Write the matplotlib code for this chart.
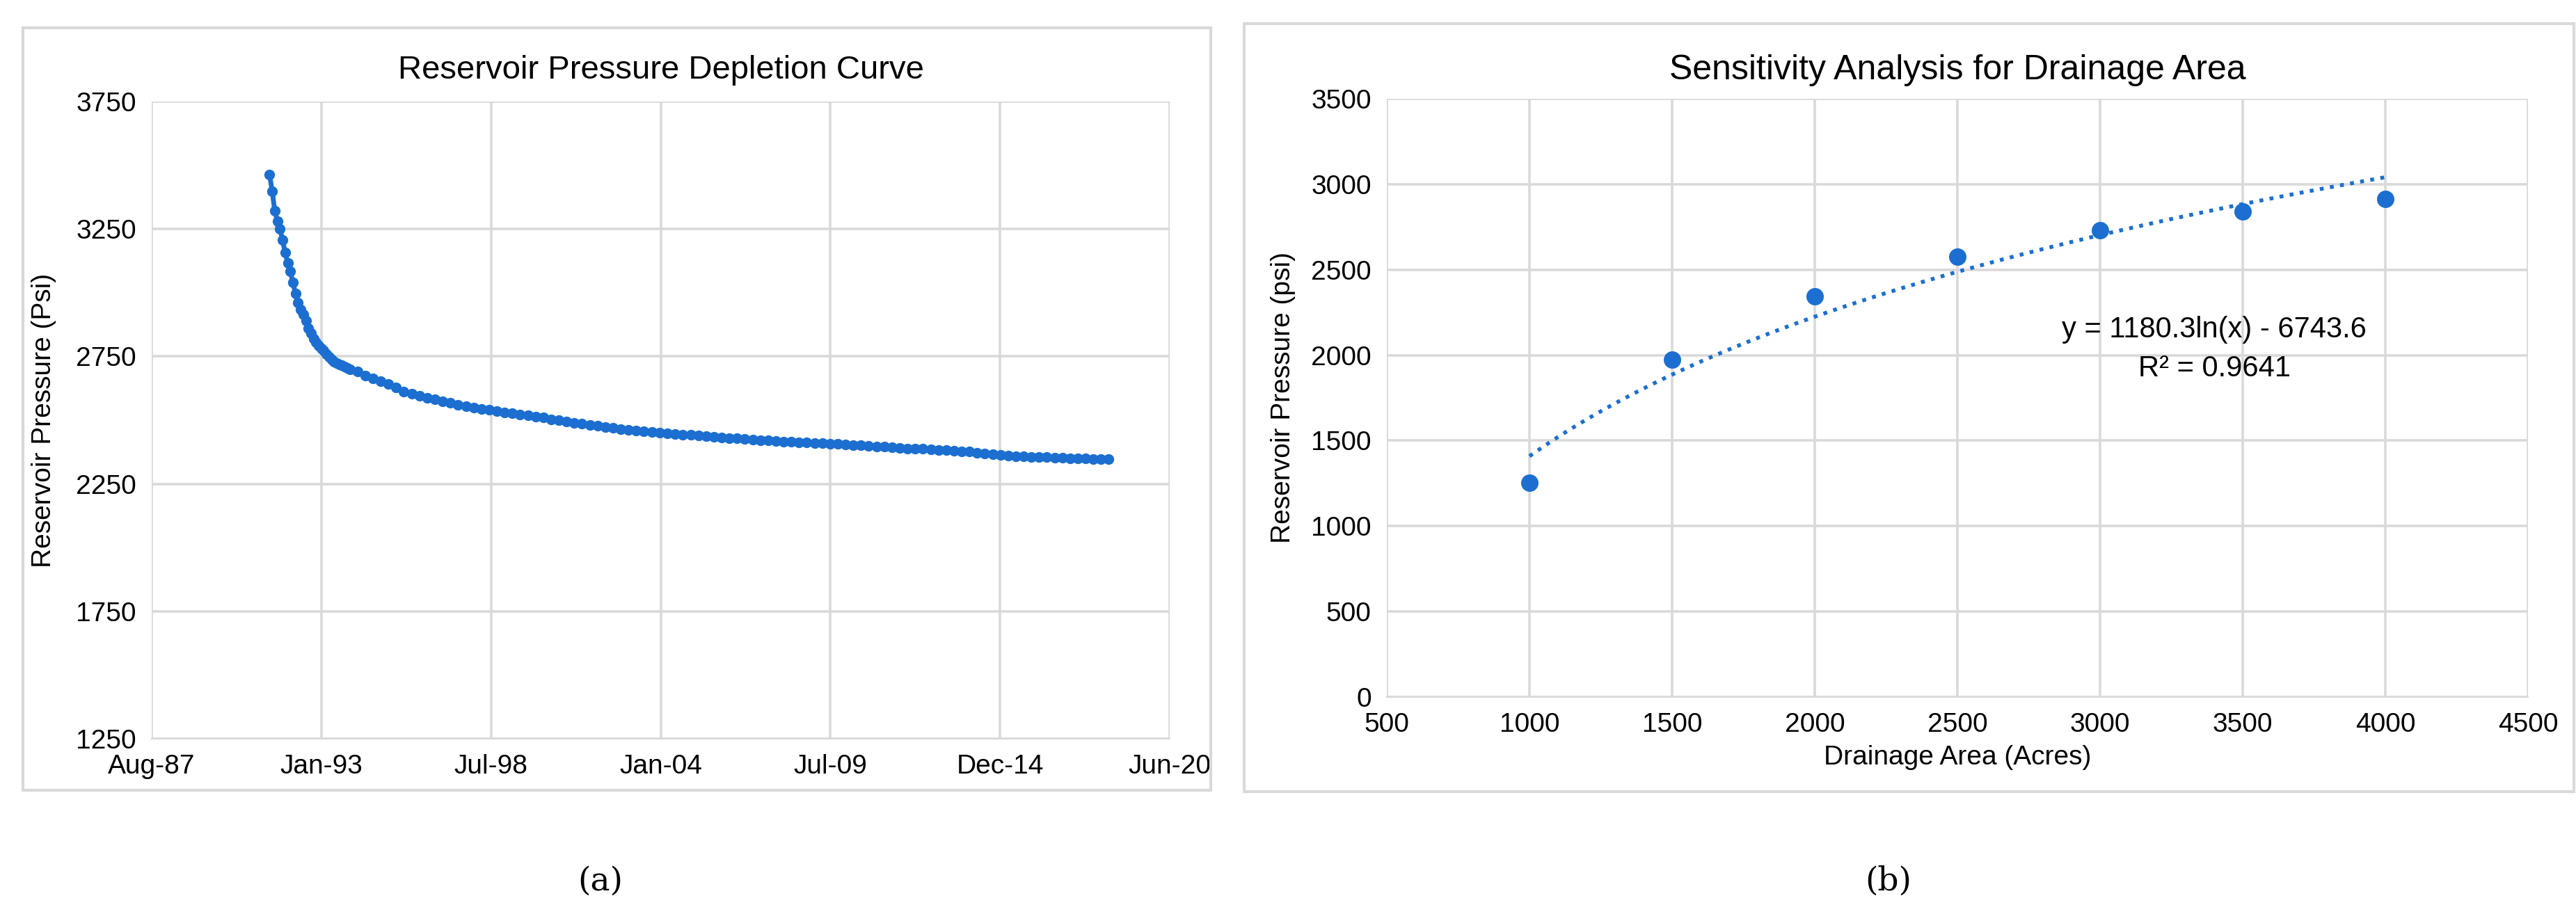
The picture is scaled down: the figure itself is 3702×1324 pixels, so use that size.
import matplotlib
matplotlib.use("Agg")
import matplotlib.pyplot as plt
import matplotlib.dates as mdates
from matplotlib.patches import Rectangle
import numpy as np
import pandas as pd

plt.rcParams['font.family'] = ['Liberation Sans', 'DejaVu Sans']

# ---- Panel (a) data ----
early_start = '1991-06-01'
early_pressure = [3463, 3399, 3321, 3280, 3250, 3206, 3157,
                  3116, 3083, 3040, 2996, 2960, 2935, 2914, 2891, 2860, 2840, 2820, 2805,
                  2792, 2782, 2772, 2760, 2748, 2737, 2730, 2724, 2719, 2715, 2710, 2705]
late_start = '1994-01-01'
late_pressure = [2700, 2690, 2676, 2663, 2652, 2641, 2627, 2613, 2603, 2595, 2588, 2581,
                 2574, 2567, 2561, 2555, 2549, 2544, 2540, 2535, 2530, 2526, 2522, 2518,
                 2514, 2510, 2503, 2499, 2495, 2490, 2486, 2482, 2478, 2474, 2469, 2465,
                 2461, 2458, 2455, 2453, 2451, 2449, 2446, 2444, 2442, 2439, 2437, 2434,
                 2432, 2430, 2428, 2426, 2424, 2422, 2420, 2418, 2416, 2415, 2414, 2413,
                 2411, 2410, 2408, 2407, 2405, 2403, 2401, 2399, 2397, 2395, 2393, 2391,
                 2389, 2388, 2387, 2386, 2384, 2382, 2380, 2378, 2376, 2373, 2370, 2367,
                 2364, 2361, 2359, 2357, 2356, 2355, 2354, 2353, 2352, 2351, 2350, 2349,
                 2348, 2347, 2346]
x_tick_serials = [32000, 34000, 36000, 38000, 40000, 42000, 44000]
y_ticks_a = [1250, 1750, 2250, 2750, 3250, 3750]

# ---- Panel (b) data ----
area = [1000, 1500, 2000, 2500, 3000, 3500, 4000]
pressure_b = [1255, 1975, 2345, 2575, 2730, 2840, 2915]
x_ticks_b = [500, 1000, 1500, 2000, 2500, 3000, 3500, 4000, 4500]
y_ticks_b = [0, 500, 1000, 1500, 2000, 2500, 3000, 3500]

blue = '#1c6fd0'
grid_c = '#d9d9d9'

fig = plt.figure(figsize=(18.51, 6.62), dpi=200)

# panel borders
for (x0, y0, x1, y1) in [(33, 40, 1740, 1136), (1788, 34, 3699, 1138)]:
    fig.patches.append(Rectangle((x0/3702, 1-y1/1324), (x1-x0)/3702, (y1-y0)/1324,
                                 transform=fig.transFigure, fill=False,
                                 edgecolor=grid_c, linewidth=1.5))

# ---- Panel (a) ----
ax = fig.add_axes([218/3702, 1-1062/1324, (1681-218)/3702, (1062-146)/1324])
d_early = pd.date_range(early_start, periods=len(early_pressure), freq='MS')
d_late = pd.date_range(late_start, periods=len(late_pressure), freq='QS')
dates = list(d_early) + list(d_late)
press = early_pressure + late_pressure
ax.plot(dates, press, color=blue, lw=2.5, marker='o', ms=4.5, zorder=3)
base = pd.Timestamp('1899-12-30')
xt = [base + pd.Timedelta(days=s) for s in x_tick_serials]
ax.set_xlim(xt[0], xt[-1])
ax.set_xticks(xt)
ax.xaxis.set_major_formatter(mdates.DateFormatter('%b-%y'))
ax.set_ylim(1250, 3750)
ax.set_yticks(y_ticks_a)
ax.grid(True, color=grid_c, lw=1.3)
for s in ['top', 'right', 'left']:
    ax.spines[s].set_visible(False)
ax.spines['bottom'].set_color(grid_c)
ax.tick_params(length=0, labelsize=14, pad=8)
ax.set_title('Reservoir Pressure Depletion Curve', fontsize=17, pad=12)
ax.set_ylabel('Reservoir Pressure (Psi)', fontsize=14, labelpad=10)

# ---- Panel (b) ----
bx = fig.add_axes([1993/3702, 1-1002/1324, (3633-1993)/3702, (1002-142)/1324])
bx.plot(area, pressure_b, 'o', color=blue, ms=8, zorder=3)
coef = np.polyfit(np.log(area), pressure_b, 1)
xs = np.linspace(min(area), max(area), 200)
bx.plot(xs, coef[0]*np.log(xs) + coef[1], ':', color=blue, lw=2, zorder=2)
bx.set_xlim(500, 4500)
bx.set_ylim(0, 3500)
bx.set_xticks(x_ticks_b)
bx.set_yticks(y_ticks_b)
bx.grid(True, color=grid_c, lw=1.3)
for s in ['top', 'right', 'left']:
    bx.spines[s].set_visible(False)
bx.spines['bottom'].set_color(grid_c)
bx.tick_params(length=0, labelsize=14, pad=8)
bx.set_title('Sensitivity Analysis for Drainage Area', fontsize=18, pad=10)
bx.set_ylabel('Reservoir Pressure (psi)', fontsize=14, labelpad=8)
bx.set_xlabel('Drainage Area (Acres)', fontsize=14, labelpad=4)
bx.text(3400, 2150, 'y = 1180.3ln(x) - 6743.6', ha='center', va='center', fontsize=15)
bx.text(3400, 1920, 'R² = 0.9641', ha='center', va='center', fontsize=15)

# captions
fig.text(0.233, 0.043, '(a)', ha='center', va='center', fontsize=17, family='DejaVu Serif')
fig.text(0.733, 0.043, '(b)', ha='center', va='center', fontsize=17, family='DejaVu Serif')
fig.text(0.233, 0.043, '  a  ', ha='center', va='center', fontsize=17, alpha=0)

fig.savefig('out.png', dpi=200)
